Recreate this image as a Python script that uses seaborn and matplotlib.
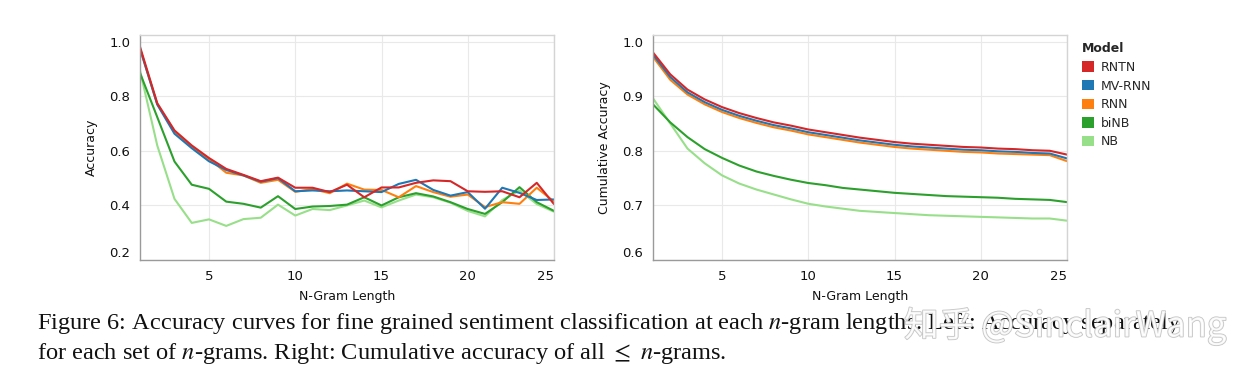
import numpy as np
import pandas as pd
import seaborn as sns
import matplotlib.pyplot as plt
from matplotlib.patches import Patch
import matplotlib.patheffects as pe

ngram = list(range(1, 26))
models = ["RNTN", "MV-RNN", "RNN", "biNB", "NB"]
colors = ["#d62728", "#1f77b4", "#ff7f0e", "#2ca02c", "#98df8a"]

# Left: accuracy per n-gram length
acc_rntn = [0.982, 0.775, 0.675, 0.620, 0.574, 0.534, 0.512, 0.489, 0.502, 0.465, 0.465, 0.449, 0.476,
            0.430, 0.466, 0.466, 0.483, 0.492, 0.489, 0.452, 0.450, 0.452, 0.430, 0.483, 0.405]
acc_mvrnn = [0.975, 0.770, 0.663, 0.610, 0.562, 0.530, 0.510, 0.487, 0.500, 0.452, 0.455, 0.452, 0.455,
             0.452, 0.449, 0.479, 0.494, 0.457, 0.436, 0.449, 0.388, 0.465, 0.446, 0.420, 0.422]
acc_rnn = [0.975, 0.772, 0.672, 0.615, 0.570, 0.520, 0.510, 0.483, 0.494, 0.450, 0.460, 0.445, 0.480,
           0.458, 0.457, 0.430, 0.471, 0.449, 0.432, 0.440, 0.394, 0.412, 0.406, 0.465, 0.414]
acc_binb = [0.886, 0.724, 0.561, 0.476, 0.461, 0.414, 0.406, 0.392, 0.434, 0.387, 0.396, 0.398, 0.403,
            0.430, 0.400, 0.430, 0.445, 0.433, 0.412, 0.387, 0.369, 0.412, 0.467, 0.412, 0.380]
acc_nb = [0.895, 0.620, 0.424, 0.336, 0.349, 0.325, 0.350, 0.355, 0.403, 0.363, 0.387, 0.383, 0.400,
          0.418, 0.393, 0.418, 0.440, 0.430, 0.410, 0.380, 0.360, 0.420, 0.455, 0.405, 0.377]

# Right: cumulative accuracy
cum_rntn = [0.980, 0.940, 0.912, 0.894, 0.880, 0.869, 0.860, 0.852, 0.846, 0.839, 0.834, 0.829, 0.824,
            0.820, 0.816, 0.813, 0.811, 0.809, 0.807, 0.806, 0.804, 0.803, 0.801, 0.800, 0.793]
cum_mvrnn = [0.976, 0.935, 0.907, 0.889, 0.875, 0.864, 0.855, 0.847, 0.841, 0.834, 0.829, 0.824, 0.819,
             0.815, 0.811, 0.808, 0.806, 0.804, 0.802, 0.801, 0.799, 0.798, 0.796, 0.795, 0.786]
cum_rnn = [0.972, 0.930, 0.903, 0.885, 0.871, 0.860, 0.851, 0.843, 0.837, 0.830, 0.825, 0.820, 0.815,
           0.811, 0.807, 0.804, 0.802, 0.800, 0.798, 0.797, 0.795, 0.794, 0.793, 0.792, 0.781]
cum_binb = [0.885, 0.852, 0.825, 0.803, 0.787, 0.773, 0.762, 0.754, 0.747, 0.741, 0.737, 0.732, 0.729,
            0.726, 0.723, 0.721, 0.719, 0.717, 0.716, 0.715, 0.714, 0.712, 0.711, 0.710, 0.706]
cum_nb = [0.896, 0.850, 0.804, 0.777, 0.755, 0.740, 0.729, 0.720, 0.711, 0.703, 0.698, 0.694, 0.690,
          0.688, 0.686, 0.684, 0.682, 0.681, 0.680, 0.679, 0.678, 0.677, 0.676, 0.676, 0.672]

left_ticks = [0.2, 0.4, 0.6, 0.8, 1.0]
right_ticks = [0.6, 0.7, 0.8, 0.9, 1.0]
x_ticks = [5, 10, 15, 20, 25]


def long_df(series, col):
    rows = []
    for m, vals in zip(models, series):
        for n, v in zip(ngram, vals):
            rows.append({"N-Gram Length": n, col: v, "Model": m})
    return pd.DataFrame(rows)


df_left = long_df([acc_rntn, acc_mvrnn, acc_rnn, acc_binb, acc_nb], "Accuracy")
df_right = long_df([cum_rntn, cum_mvrnn, cum_rnn, cum_binb, cum_nb], "Cumulative Accuracy")

sns.set_theme(style="white")
plt.rcParams['font.family'] = ['DejaVu Sans']
plt.rcParams['mathtext.fontset'] = 'stix'

W, H = 1258, 381
fig = plt.figure(figsize=(W / 100, H / 100), dpi=100)
fig.patch.set_facecolor("white")
ax1 = fig.add_axes([140 / W, 1 - 260 / H, 414 / W, 225 / H])
ax2 = fig.add_axes([653 / W, 1 - 260 / H, 414 / W, 225 / H])

pal = dict(zip(models, colors))
draw_order = models[::-1]

for ax, df, ycol, ticks, ylim in [
    (ax1, df_left, "Accuracy", left_ticks, (0.2, 1.025)),
    (ax2, df_right, "Cumulative Accuracy", right_ticks, (0.6, 1.012)),
]:
    sns.lineplot(data=df, x="N-Gram Length", y=ycol, hue="Model", hue_order=draw_order,
                 palette=pal, ax=ax, legend=False, linewidth=1.5)
    ax.set_xlim(1, 25)
    ax.set_ylim(*ylim)
    ax.set_xticks(x_ticks)
    ax.set_xticklabels([str(t) for t in x_ticks])
    ax.set_yticks(ticks)
    ax.set_yticklabels([f"{t:.1f}" for t in ticks])
    ax.grid(True, color="#e9e9e9", linewidth=0.8)
    ax.set_axisbelow(True)
    for s in ["left", "bottom"]:
        ax.spines[s].set_color("#9a9a9a")
        ax.spines[s].set_linewidth(1.0)
    for s in ["top", "right"]:
        ax.spines[s].set_color("#d4d4d4")
        ax.spines[s].set_linewidth(1.0)
    ax.tick_params(length=0, pad=7, labelsize=9.5, colors="#111111")
    ax.set_xlabel("N-Gram Length", fontsize=9, labelpad=5, color="#111111")
    ax.set_ylabel(ycol, fontsize=9, labelpad=8, color="#111111")
    ax.get_xticklabels()[-1].set_ha("right")
    ax.get_yticklabels()[0].set_va("bottom")

handles = [Patch(facecolor=c, edgecolor="none", label=m) for m, c in zip(models, colors)]
fig.legend(handles=handles, title="Model", loc="upper left",
           bbox_to_anchor=(1071 / W, 1 - 31 / H), frameon=False,
           handlelength=0.9, handleheight=0.9, handletextpad=0.6,
           labelspacing=0.45, fontsize=9, alignment="left",
           title_fontproperties={"weight": "bold", "size": 9})

cap_font = dict(family="Liberation Serif", fontsize=17.6, color="#111111", va="center")
fig.text(37 / W, 1 - 323 / H,
         "Figure 6: Accuracy curves for fine grained sentiment classification at each $n$-gram lengths. Left: Accuracy separately",
         **cap_font)
fig.text(37 / W, 1 - 353 / H,
         "for each set of $n$-grams. Right: Cumulative accuracy of all $\\leq$ $n$-grams.",
         **cap_font)

fig.text(1227 / W, 1 - 326 / H, "知乎 @SinclairWang", family=["Noto Sans CJK SC", "DejaVu Sans"],
         fontsize=25, color="white", alpha=0.85, ha="right", va="center",
         path_effects=[pe.withStroke(linewidth=1.2, foreground="#bbbbbb")])

fig.savefig("out.png", dpi=100)
